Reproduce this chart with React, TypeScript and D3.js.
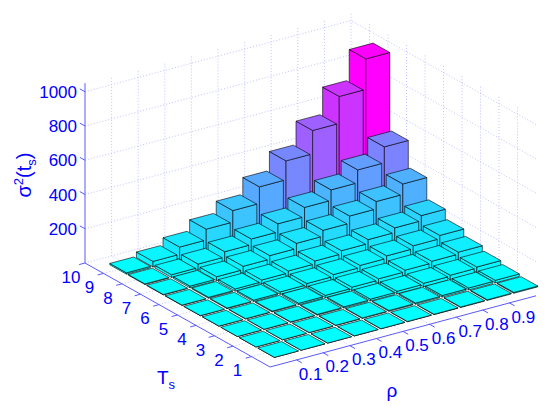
import { useEffect, useRef } from 'react'
import * as d3 from 'd3'

// rho columns (0.1 ... 1.0), Ts rows (1 ... 9)
const RHO_TICKS = [1, 2, 3, 4, 5, 6, 7, 8, 9]
const RHO_LABELS = ['0.1', '0.2', '0.3', '0.4', '0.5', '0.6', '0.7', '0.8', '0.9']
const TS_TICKS = [1, 2, 3, 4, 5, 6, 7, 8, 9, 10]
const TS_LABELS = ['1', '2', '3', '4', '5', '6', '7', '8', '9', '10']
const Z_TICKS = [200, 400, 600, 800, 1000]

// sigma^2(t_s), one row per Ts, one value per rho column
const SIGMA_TS1 = [0, 0.2, 0.4, 0.8, 1.2, 1.7, 2.3, 3.1, 4, 5]
const SIGMA_TS2 = [0.1, 0.6, 1.3, 2.3, 3.5, 5.1, 7, 9.3, 12, 15]
const SIGMA_TS3 = [0.3, 1.2, 2.7, 5, 7.4, 10.9, 14.9, 19.8, 25.6, 32]
const SIGMA_TS4 = [0.5, 2.1, 4.9, 9, 13.5, 19.8, 27.1, 36, 46.4, 58]
const SIGMA_TS5 = [0.9, 3.5, 8.1, 14.8, 22, 32.5, 44.4, 58.9, 76, 95]
const SIGMA_TS6 = [1.4, 5.6, 12.8, 23.4, 34.8, 51.3, 70, 93, 120, 150]
const SIGMA_TS7 = [2.5, 10.1, 23.3, 42.7, 63.6, 93.7, 128, 170, 213, 274]
const SIGMA_TS8 = [3.9, 15.9, 36.6, 67.1, 99.8, 147, 201, 262, 337, 430]
const SIGMA_TS9 = [8, 33, 75, 138, 205, 302, 412, 548, 705, 883]
const SIGMA_ROWS = [SIGMA_TS1, SIGMA_TS2, SIGMA_TS3, SIGMA_TS4, SIGMA_TS5, SIGMA_TS6, SIGMA_TS7, SIGMA_TS8, SIGMA_TS9]

const AXIS_BLUE = '#5a5aff'
const TEXT_BLUE = '#0000ff'
const FONT = '"Liberation Sans", Arial, Helvetica, sans-serif'

export default function App() {
  const svgRef = useRef<SVGSVGElement>(null)

  useEffect(() => {
    const svgEl = svgRef.current
    if (!svgEl) return
    const svg = d3.select(svgEl)
    svg.selectAll('*').remove()

    // axis box: rho [0,10], Ts [0,10], z [0,1050]
    const fx = d3.scaleLinear().domain([0, 10]).range([0, 1])
    const fy = d3.scaleLinear().domain([0, 10]).range([0, 1])
    const fz = d3.scaleLinear().domain([0, 1050]).range([0, 1])
    const O = [270, 367]
    const AX = [266, -71.2]
    const AY = [-185, -104]
    const AZ = [0, -179.8]
    const proj = (x: number, y: number, z: number): [number, number] => [
      O[0] + fx(x) * AX[0] + fy(y) * AY[0] + fz(z) * AZ[0],
      O[1] + fx(x) * AX[1] + fy(y) * AY[1] + fz(z) * AZ[1],
    ]
    const poly = (pts: [number, number][]) =>
      'M' + pts.map(p => `${p[0].toFixed(2)},${p[1].toFixed(2)}`).join('L') + 'Z'

    const zTop = fz.domain()[1]
    const grid = svg.append('g')
      .attr('stroke', '#9a9aff').attr('stroke-width', 0.8)
      .attr('stroke-dasharray', '1 2').attr('opacity', 0.75).attr('fill', 'none')
    const seg = (a: [number, number], b: [number, number]) =>
      grid.append('line').attr('x1', a[0]).attr('y1', a[1]).attr('x2', b[0]).attr('y2', b[1])

    // floor grid
    RHO_TICKS.forEach(k => seg(proj(k, 0, 0), proj(k, 10, 0)))
    TS_TICKS.forEach(k => seg(proj(0, k, 0), proj(10, k, 0)))
    // back wall (Ts = 10)
    RHO_TICKS.forEach(k => seg(proj(k, 10, 0), proj(k, 10, zTop)))
    Z_TICKS.forEach(z => seg(proj(0, 10, z), proj(10, 10, z)))
    // right wall (rho = 10)
    TS_TICKS.forEach(k => seg(proj(10, k, 0), proj(10, k, zTop)))
    Z_TICKS.forEach(z => seg(proj(10, 0, z), proj(10, 10, z)))

    // bars
    const maxVal = d3.max(SIGMA_ROWS.flat()) ?? 1
    const color = d3.scaleLinear<string>().domain([0, maxVal]).range(['#00ffff', '#ff00ff'])
      .interpolate(d3.interpolateRgb)
    const half = 0.45
    const cells = SIGMA_ROWS.flatMap((row, j) => row.map((v, i) => ({ i: i + 1, j: j + 1, v })))
    cells.sort((a, b) => (b.i + b.j) - (a.i + a.j))

    const bars = svg.append('g').attr('stroke', '#000').attr('stroke-width', 0.6)
      .attr('stroke-linejoin', 'round')
    cells.forEach(c => {
      const x0 = c.i - half, x1 = c.i + half
      const y0 = c.j - half, y1 = c.j + half
      const fill = color(c.v)
      // face at rho = lo
      bars.append('path').attr('fill', fill)
        .attr('d', poly([proj(x0, y0, 0), proj(x0, y1, 0), proj(x0, y1, c.v), proj(x0, y0, c.v)]))
      // face at Ts = lo
      bars.append('path').attr('fill', fill)
        .attr('d', poly([proj(x0, y0, 0), proj(x1, y0, 0), proj(x1, y0, c.v), proj(x0, y0, c.v)]))
      // top
      bars.append('path').attr('fill', fill)
        .attr('d', poly([proj(x0, y0, c.v), proj(x1, y0, c.v), proj(x1, y1, c.v), proj(x0, y1, c.v)]))
    })

    // axes
    const axes = svg.append('g').attr('stroke', AXIS_BLUE).attr('stroke-width', 1).attr('fill', 'none')
    const axLine = (a: [number, number], b: [number, number]) =>
      axes.append('line').attr('x1', a[0]).attr('y1', a[1]).attr('x2', b[0]).attr('y2', b[1])
    axLine(proj(0, 10, 0), proj(0, 10, zTop))
    axLine(proj(0, 0, 0), proj(0, 10, 0))
    axLine(proj(0, 0, 0), proj(10, 0, 0))

    const label = (x: number, y: number, text: string, anchor = 'middle') =>
      svg.append('text').attr('x', x).attr('y', y).attr('dy', '0.36em')
        .attr('text-anchor', anchor).attr('fill', TEXT_BLUE)
        .style('font-family', FONT).style('font-size', '17px').text(text)

    Z_TICKS.forEach(z => {
      const p = proj(0, 10, z)
      axLine(p, proj(0, 10.28, z))
      label(p[0] - 8, p[1], String(z), 'end')
    })
    TS_TICKS.forEach((k, idx) => {
      const p = proj(0, k, 0)
      axLine(p, proj(-0.22, k, 0))
      label(p[0] - 14, p[1] + 13.6, TS_LABELS[idx])
    })
    RHO_TICKS.forEach((k, idx) => {
      const p = proj(k, 0, 0)
      axLine(p, proj(k, -0.28, 0))
      label(p[0] + 14, p[1] + 13.5, RHO_LABELS[idx])
    })

    // axis titles
    const zt = svg.append('text')
      .attr('transform', 'translate(31,175) rotate(-90)')
      .attr('text-anchor', 'middle').attr('fill', TEXT_BLUE)
      .style('font-family', FONT).style('font-size', '20px')
    zt.append('tspan').text('σ')
    zt.append('tspan').attr('dy', -8).style('font-size', '13px').text('2')
    zt.append('tspan').attr('dy', 8).text('(t')
    zt.append('tspan').attr('dy', 5).style('font-size', '13px').text('s')
    zt.append('tspan').attr('dy', -5).text(')')

    const tt = svg.append('text').attr('x', 157).attr('y', 384).attr('fill', TEXT_BLUE)
      .style('font-family', FONT).style('font-size', '19px')
    tt.append('tspan').text('T')
    tt.append('tspan').attr('dy', 5).style('font-size', '13px').text('s')

    svg.append('text').attr('x', 392).attr('y', 397).attr('text-anchor', 'middle')
      .attr('fill', TEXT_BLUE).style('font-family', FONT).style('font-size', '19px').text('ρ')
  }, [])

  return (
    <svg
      ref={svgRef}
      width={550}
      height={406}
      style={{ position: 'absolute', left: 0, top: 0, background: '#fff' }}
    />
  )
}
